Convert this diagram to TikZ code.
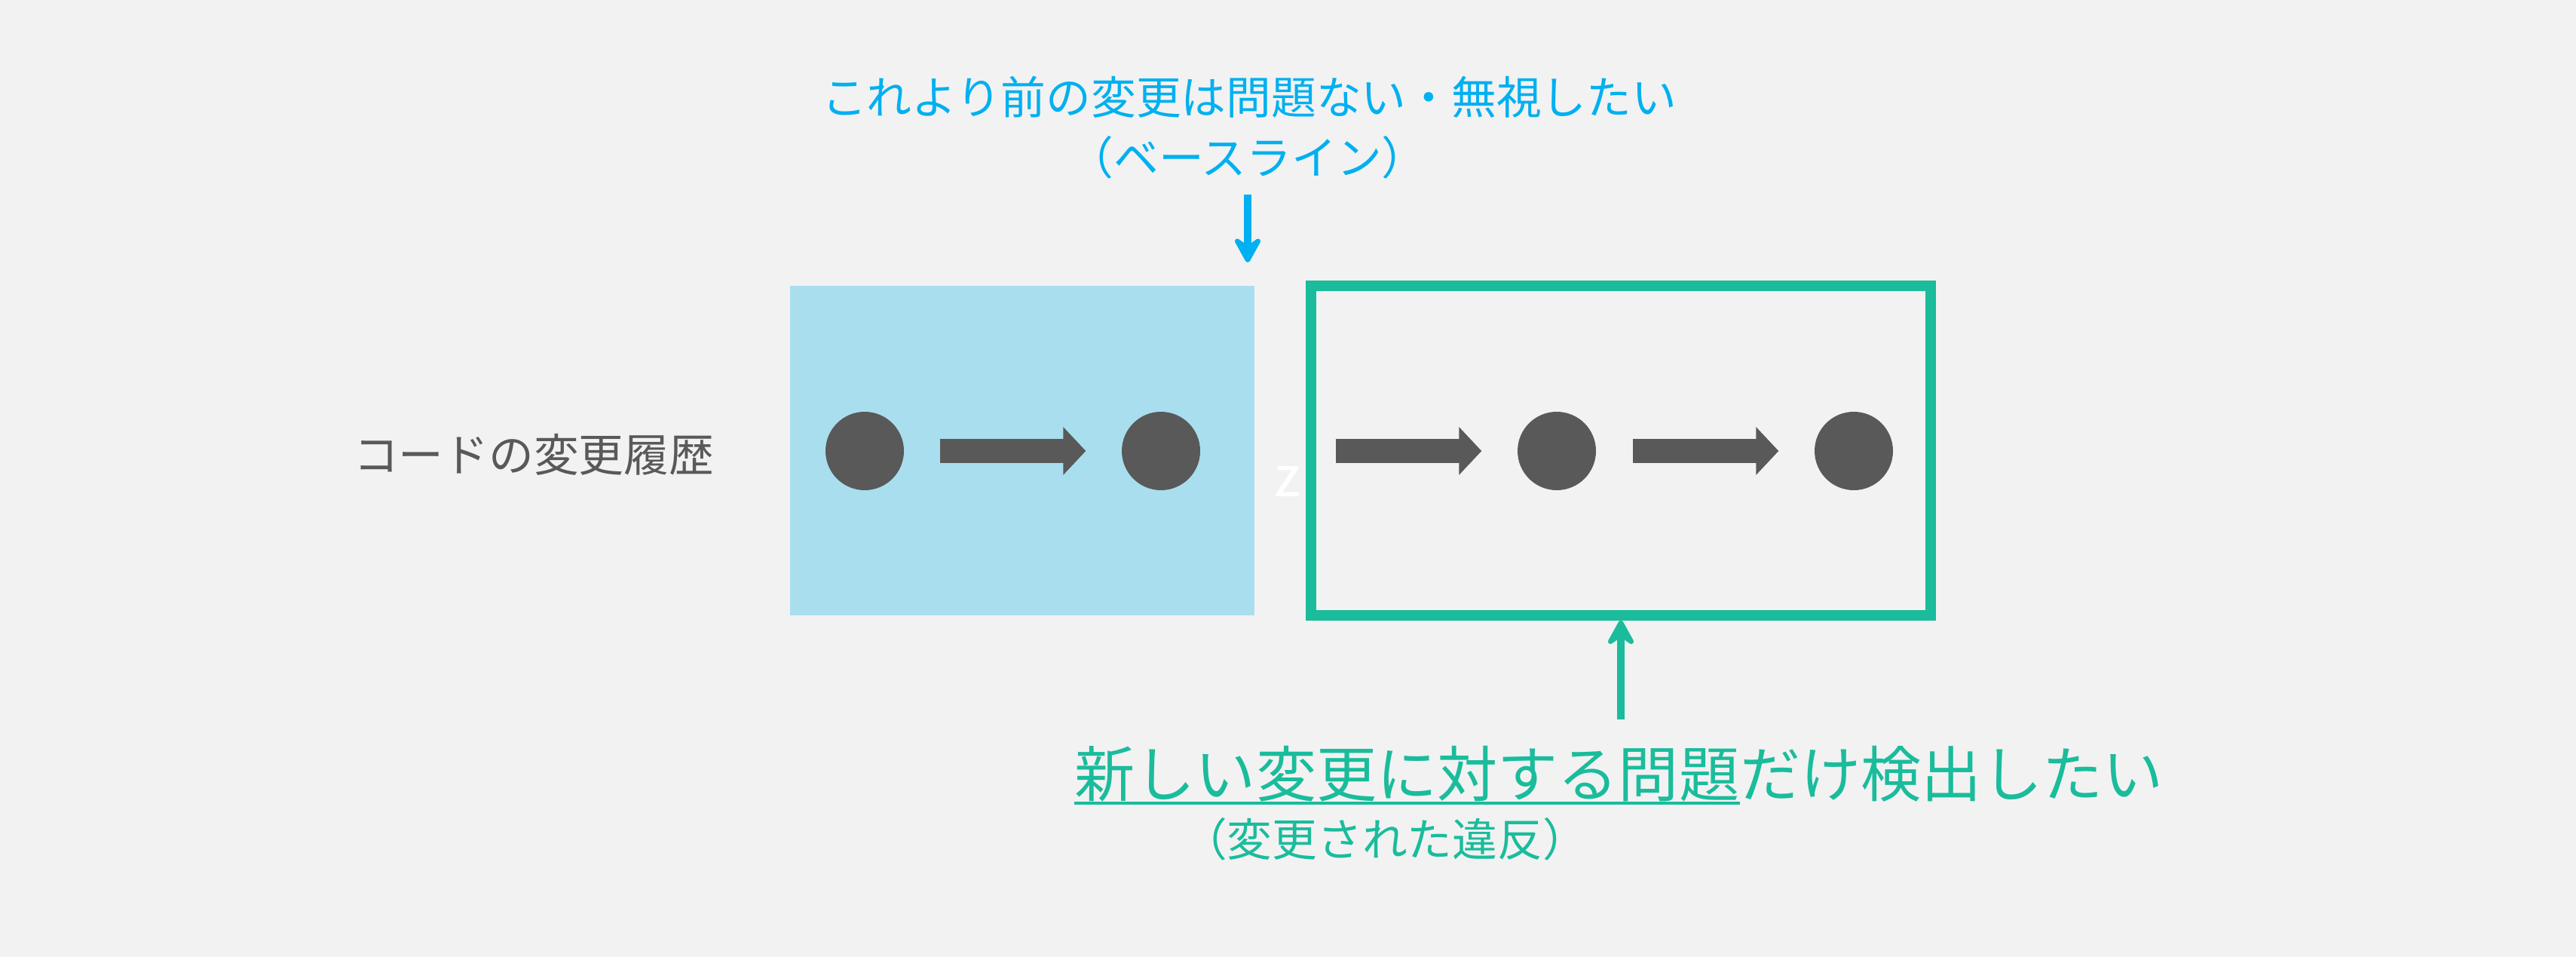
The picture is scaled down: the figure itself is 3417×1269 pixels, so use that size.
\documentclass[tikz,border=0pt]{standalone}
\usepackage{fontspec}
\usepackage{tikz}
\usetikzlibrary{arrows.meta,positioning}
\newfontfamily\jpfont{Noto Sans CJK JP}
\definecolor{histbg}{HTML}{F2F2F2}
\definecolor{histink}{HTML}{595959}
\definecolor{histblue}{HTML}{00B0F0}
\definecolor{histpale}{HTML}{A9DEEF}
\definecolor{histgreen}{HTML}{1ABC9C}
\tikzset{
  cmt/.style={circle, fill=histink, minimum size=10.4mm, inner sep=0pt},
  fat/.style={-{Triangle[length=3mm, width=6.2mm]}, line width=3.2mm, color=histink},
  txt/.style={font=\jpfont\fontsize{17pt}{20pt}\selectfont, inner sep=0pt, anchor=base},
  big/.style={font=\jpfont\fontsize{22.8pt}{26pt}\selectfont, inner sep=0pt, color=histgreen},
  ptr/.style={-{Stealth[length=4.2mm, width=4.6mm, inset=1.6mm, round]}, line width=1mm},
}
\begin{document}
\begin{tikzpicture}[x=0.1mm, y=-0.1mm]
      \fill[histbg] (0,0) rectangle (3417,1269);
      \useasboundingbox (0,0) rectangle (3417,1269);
      % baseline and new range
      \node[fill=histpale, minimum width=61.6mm, minimum height=43.7mm, inner sep=0pt] (base) at (1356,597) {};
      \node[draw=histgreen, line width=1.4mm, minimum width=82.2mm, minimum height=43.7mm, inner sep=0pt] (fresh) at (2150,597) {};
      \foreach \i/\x in {1/1147, 2/1540, 3/2065, 4/2459}
        \node[cmt] (c\i) at (\x,598) {};
      \foreach \a/\b/\s in {1/2/4.7mm, 2/3/17.9mm, 3/4/4.8mm}
        \draw[fat, shorten <=\s, shorten >=4.7mm] (c\a) -- (c\b);
      \node[txt, color=histink] (hist) at (708,625) {コードの変更履歴};
      \node[font=\jpfont\fontsize{21pt}{24pt}\selectfont, white, inner sep=0pt, anchor=base] (zz) at (1708,658) {z};
      % labels
      \node[txt, color=histblue] (title1) at (1657,151) {これより前の変更は問題ない・無視したい};
      \node[txt, color=histblue] (title2) at (1655,231) {（ベースライン）};
      \coordinate (btip) at (1655,348);
      \draw[ptr, histblue, shorten <=2.1mm] (title2.south) -- (btip);
      \node[big, anchor=base west] (want1) at (1425,1056) {新しい変更に対する問題};
      \node[big, anchor=base west] (want2) at (want1.base east) {だけ検出したい};
      \draw[histgreen, line width=0.45mm] ([yshift=-0.9mm]want1.base west) -- ([yshift=-0.9mm]want1.base east);
      \node[txt, color=histgreen] (want3) at (1837,1135) {（変更された違反）};
      \coordinate (gfoot) at (2150,954);
      \draw[ptr, histgreen] (gfoot) -- (fresh.south);
    \end{tikzpicture}
\end{document}
